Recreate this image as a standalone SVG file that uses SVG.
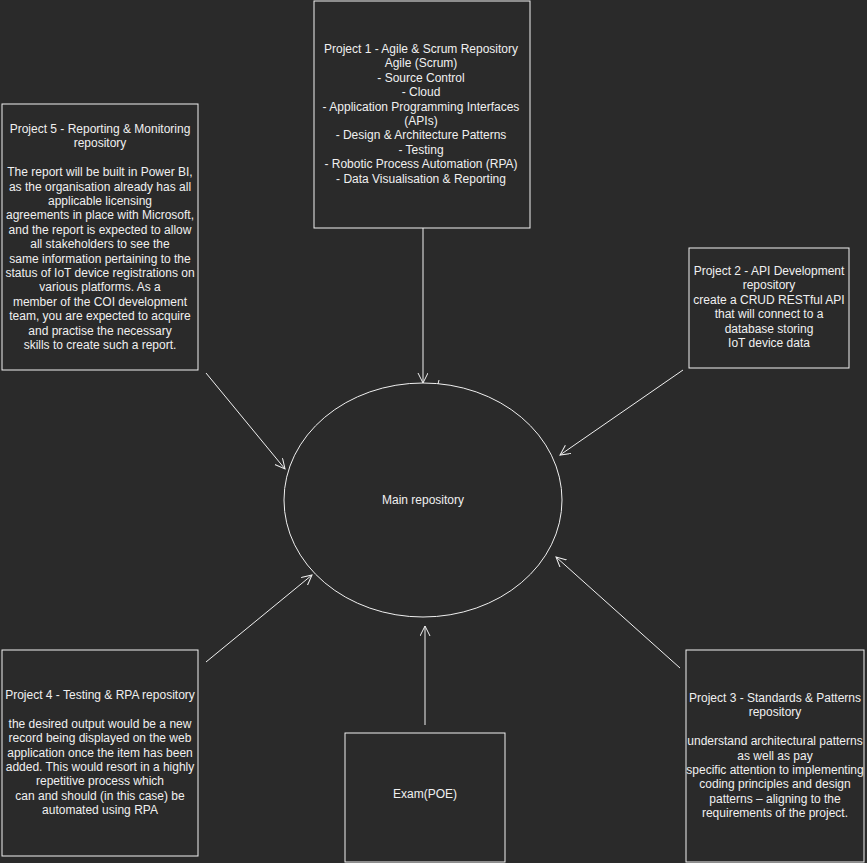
<svg xmlns="http://www.w3.org/2000/svg" width="867" height="863" viewBox="0 0 867 863">
<style>
.box{fill:#2a2a2a;stroke:#f0f0f0;stroke-width:1}
text{font-family:"Liberation Sans",Arial,sans-serif;font-size:12px;fill:#f0f0f0;text-anchor:middle}
.c{stroke:#f0f0f0;stroke-width:1;fill:none;marker-end:url(#a)}
</style>
<defs><marker id="a" markerWidth="12" markerHeight="12" refX="10" refY="5" orient="auto" markerUnits="userSpaceOnUse"><path d="M0,0 L10,5 L0,10" fill="none" stroke="#f0f0f0" stroke-width="1"/></marker></defs>
<rect width="867" height="863" fill="#2a2a2a"/>
<g id="main"><ellipse class="box" cx="423" cy="500" rx="139" ry="117"/><text x="423" y="504">Main repository</text></g>
<g id="p1"><rect class="box" x="314" y="1" width="216" height="227"/>
<text x="421" y="53"><tspan x="421">Project 1 - Agile &amp; Scrum Repository</tspan><tspan x="421" dy="14.4">Agile (Scrum)</tspan><tspan x="421" dy="14.4">- Source Control</tspan><tspan x="421" dy="14.4">- Cloud</tspan><tspan x="421" dy="14.4">- Application Programming Interfaces</tspan><tspan x="421" dy="14.4">(APIs)</tspan><tspan x="421" dy="14.4">- Design &amp; Architecture Patterns</tspan><tspan x="421" dy="14.4">- Testing</tspan><tspan x="421" dy="14.4">- Robotic Process Automation (RPA)</tspan><tspan x="421" dy="14.4">- Data Visualisation &amp; Reporting</tspan></text></g>
<g id="p5"><rect class="box" x="2" y="104" width="196" height="266"/>
<text x="100" y="133"><tspan x="100">Project 5 - Reporting &amp; Monitoring</tspan><tspan x="100" dy="14.4">repository</tspan><tspan x="100" dy="28.8">The report will be built in Power BI,</tspan><tspan x="100" dy="14.4">as the organisation already has all</tspan><tspan x="100" dy="14.4">applicable licensing</tspan><tspan x="100" dy="14.4">agreements in place with Microsoft,</tspan><tspan x="100" dy="14.4">and the report is expected to allow</tspan><tspan x="100" dy="14.4">all stakeholders to see the</tspan><tspan x="100" dy="14.4">same information pertaining to the</tspan><tspan x="100" dy="14.4">status of IoT device registrations on</tspan><tspan x="100" dy="14.4">various platforms. As a</tspan><tspan x="100" dy="14.4">member of the COI development</tspan><tspan x="100" dy="14.4">team, you are expected to acquire</tspan><tspan x="100" dy="14.4">and practise the necessary</tspan><tspan x="100" dy="14.4">skills to create such a report.</tspan></text></g>
<g id="p2"><rect class="box" x="689" y="248" width="160" height="120"/>
<text x="769" y="275"><tspan x="769">Project 2 - API Development</tspan><tspan x="769" dy="14.4">repository</tspan><tspan x="769" dy="14.4">create a CRUD RESTful API</tspan><tspan x="769" dy="14.4">that will connect to a</tspan><tspan x="769" dy="14.4">database storing</tspan><tspan x="769" dy="14.4">IoT device data</tspan></text></g>
<g id="p4"><rect class="box" x="2" y="650" width="196" height="206"/>
<text x="100" y="699"><tspan x="100">Project 4 - Testing &amp; RPA repository</tspan><tspan x="100" dy="28.8">the desired output would be a new</tspan><tspan x="100" dy="14.4">record being displayed on the web</tspan><tspan x="100" dy="14.4">application once the item has been</tspan><tspan x="100" dy="14.4">added. This would resort in a highly</tspan><tspan x="100" dy="14.4">repetitive process which</tspan><tspan x="100" dy="14.4">can and should (in this case) be</tspan><tspan x="100" dy="14.4">automated using RPA</tspan></text></g>
<g id="p3"><rect class="box" x="686" y="650" width="178" height="212"/>
<text x="775" y="702"><tspan x="775">Project 3 - Standards &amp; Patterns</tspan><tspan x="775" dy="14.4">repository</tspan><tspan x="775" dy="28.8">understand architectural patterns</tspan><tspan x="775" dy="14.4">as well as pay</tspan><tspan x="775" dy="14.4">specific attention to implementing</tspan><tspan x="775" dy="14.4">coding principles and design</tspan><tspan x="775" dy="14.4">patterns – aligning to the</tspan><tspan x="775" dy="14.4">requirements of the project.</tspan></text></g>
<g id="exam"><rect class="box" x="345" y="733" width="160" height="129"/><text x="425" y="798">Exam(POE)</text></g>
<g id="connectors">
<path class="c" d="M423,228 L423,383"/>
<path class="c" d="M206,373 L285,469"/>
<path class="c" d="M683,370 L560,455"/>
<path class="c" d="M206,662 L312,575"/>
<path class="c" d="M680,668 L556,557"/>
<path class="c" d="M425,725 L425,626"/>
<path d="M439,380 L438,384" stroke="#f0f0f0" stroke-width="1"/>
</g>
</svg>
